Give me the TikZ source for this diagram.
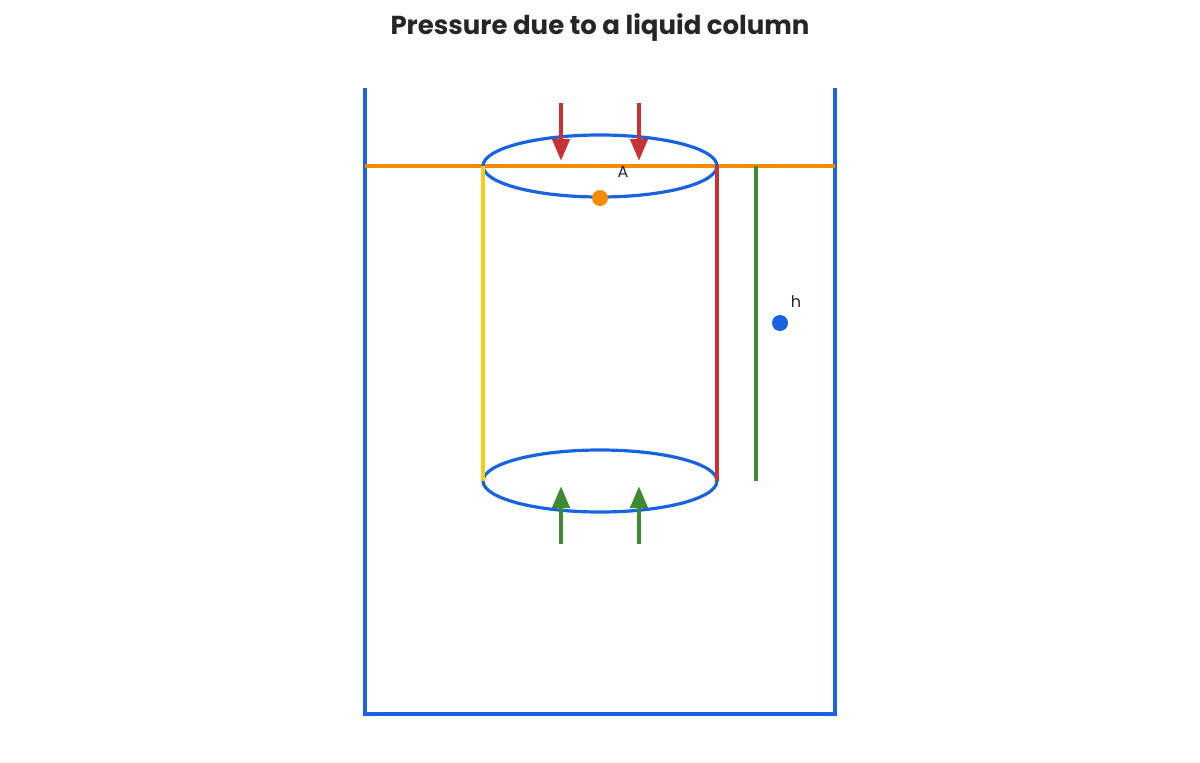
\documentclass[tikz,border=0pt]{standalone}
\usepackage{fontspec}
\setmainfont{Poppins}
\usetikzlibrary{arrows.meta}
\definecolor{cblue}{HTML}{1A63E0}
\definecolor{corange}{HTML}{F58A07}
\definecolor{cred}{HTML}{C83232}
\definecolor{cgreen}{HTML}{3F8A35}
\definecolor{cyellow}{HTML}{F8CD1A}
\tikzset{
  wall/.style={cblue, line width=3.2pt},
  arr/.style={line width=4.5pt, -{Triangle[length=22pt,width=17pt]}},
  dot/.style={circle, inner sep=0pt, minimum size=16pt},
  lbl/.style={font=\fontsize{16}{16}\selectfont, text=black!85},
}
\begin{document}
\begin{tikzpicture}[x=1pt,y=-1pt]
\useasboundingbox (0,0) rectangle (1200,763);
\node[text=black!85] (title) at (600,28) {\fontsize{26}{28}\selectfont\bfseries Pressure due to a liquid column};
\coordinate (tl) at (365,88); \coordinate (bl) at (365,714);
\coordinate (br) at (835,714); \coordinate (tr) at (835,88);
\draw[wall] (tl) -- (bl) -- (br) -- (tr);
\coordinate (sl) at (365,166); \coordinate (sr) at (835,166);
\draw[corange, line width=4.5pt] (sl) -- (sr);
\draw[cblue, line width=3.2pt] (600,166) ellipse [x radius=117, y radius=31];
\draw[cblue, line width=3.2pt] (600,481) ellipse [x radius=117, y radius=31];
\coordinate (y1) at (483,166); \coordinate (y2) at (483,481);
\draw[cyellow, line width=4.5pt] (y1) -- (y2);
\coordinate (r1) at (717,166); \coordinate (r2) at (717,481);
\draw[cred, line width=4.5pt] (r1) -- (r2);
\coordinate (g1) at (756,166); \coordinate (g2) at (756,481);
\draw[cgreen, line width=4.5pt] (g1) -- (g2);
\coordinate (a1s) at (561,103); \coordinate (a1e) at (561,161);
\coordinate (a2s) at (639,103); \coordinate (a2e) at (639,161);
\draw[arr, cred] (a1s) -- (a1e);
\draw[arr, cred] (a2s) -- (a2e);
\coordinate (b1s) at (561,544); \coordinate (b1e) at (561,486);
\coordinate (b2s) at (639,544); \coordinate (b2e) at (639,486);
\draw[arr, cgreen] (b1s) -- (b1e);
\draw[arr, cgreen] (b2s) -- (b2e);
\node[dot, fill=corange] (od) at (600,198) {};
\node[dot, fill=cblue] (bd) at (780,323) {};
\node[lbl] (A) at (623,172) {A};
\node[lbl] (h) at (796,302) {h};
\end{tikzpicture}
\end{document}
